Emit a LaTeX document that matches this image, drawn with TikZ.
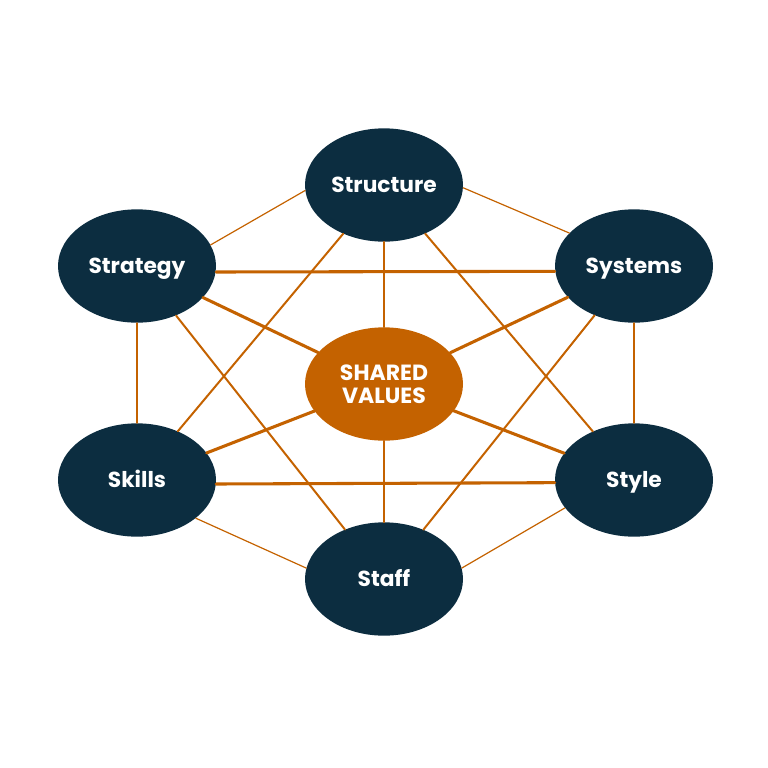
\documentclass[tikz,border=0pt]{standalone}
\usepackage{fontspec}
\setmainfont{Poppins}
\usetikzlibrary{shapes.geometric}
\definecolor{navy}{HTML}{0C2D40}
\definecolor{rust}{HTML}{C46200}
\begin{document}
\begin{tikzpicture}[x=0.75pt,y=-0.75pt,line cap=round,line join=round,
	font=\bfseries\fontsize{16.3}{19}\selectfont,
	oval/.style={ellipse,text=white,minimum width=118.5pt,minimum height=85pt,inner sep=0pt},
	sbox/.style={oval,fill=navy,text height=11.5pt,text depth=0pt},
	vbox/.style={oval,fill=rust,align=center,font=\bfseries\fontsize{16.5}{17.3}\selectfont},
	thin/.style={draw=rust,line width=0.9pt},
	mid/.style={draw=rust,line width=1.5pt},
	thick/.style={draw=rust,line width=2.3pt}]
		\useasboundingbox (0,0) rectangle (768,768);
		\node[sbox] (structure) at (384,185) {Structure};
		\node[sbox] (strategy) at (137,266) {Strategy};
		\node[sbox] (systems) at (634,266) {Systems};
		\node[vbox] (values) at (384,384) {SHARED\\VALUES};
		\node[sbox] (skills) at (137,480) {Skills};
		\node[sbox] (style) at (634,480) {Style};
		\node[sbox] (staff) at (384,579) {Staff};
		% outer ring
		\draw[thin] (structure.184)--(strategy.16);
		\draw[thin] (structure.-2)--(systems.153);
		\draw[thin] (strategy)--(skills);
		\draw[thin] (systems)--(style);
		\draw[thin] (skills.-33)--(staff.172);
		\draw[thin] (staff.8)--(style.202);
		% across
		\draw[thick] ([yshift=-4.5pt]strategy.east)--([yshift=-4pt]systems.west);
		\draw[thick] ([yshift=-3pt]skills.east)--([yshift=-2pt]style.west);
		\draw[mid] (structure)--(skills);
		\draw[mid] (structure)--(style);
		\draw[mid] (strategy)--(staff);
		\draw[mid] (systems)--(staff);
		% spokes
		\draw[mid] (values)--(structure);
		\draw[mid] (values)--(staff);
		\draw[thick] (values)--(strategy);
		\draw[thick] (values)--(systems);
		\draw[thick] (values)--(skills);
		\draw[thick] (values)--(style);
\end{tikzpicture}
\end{document}
